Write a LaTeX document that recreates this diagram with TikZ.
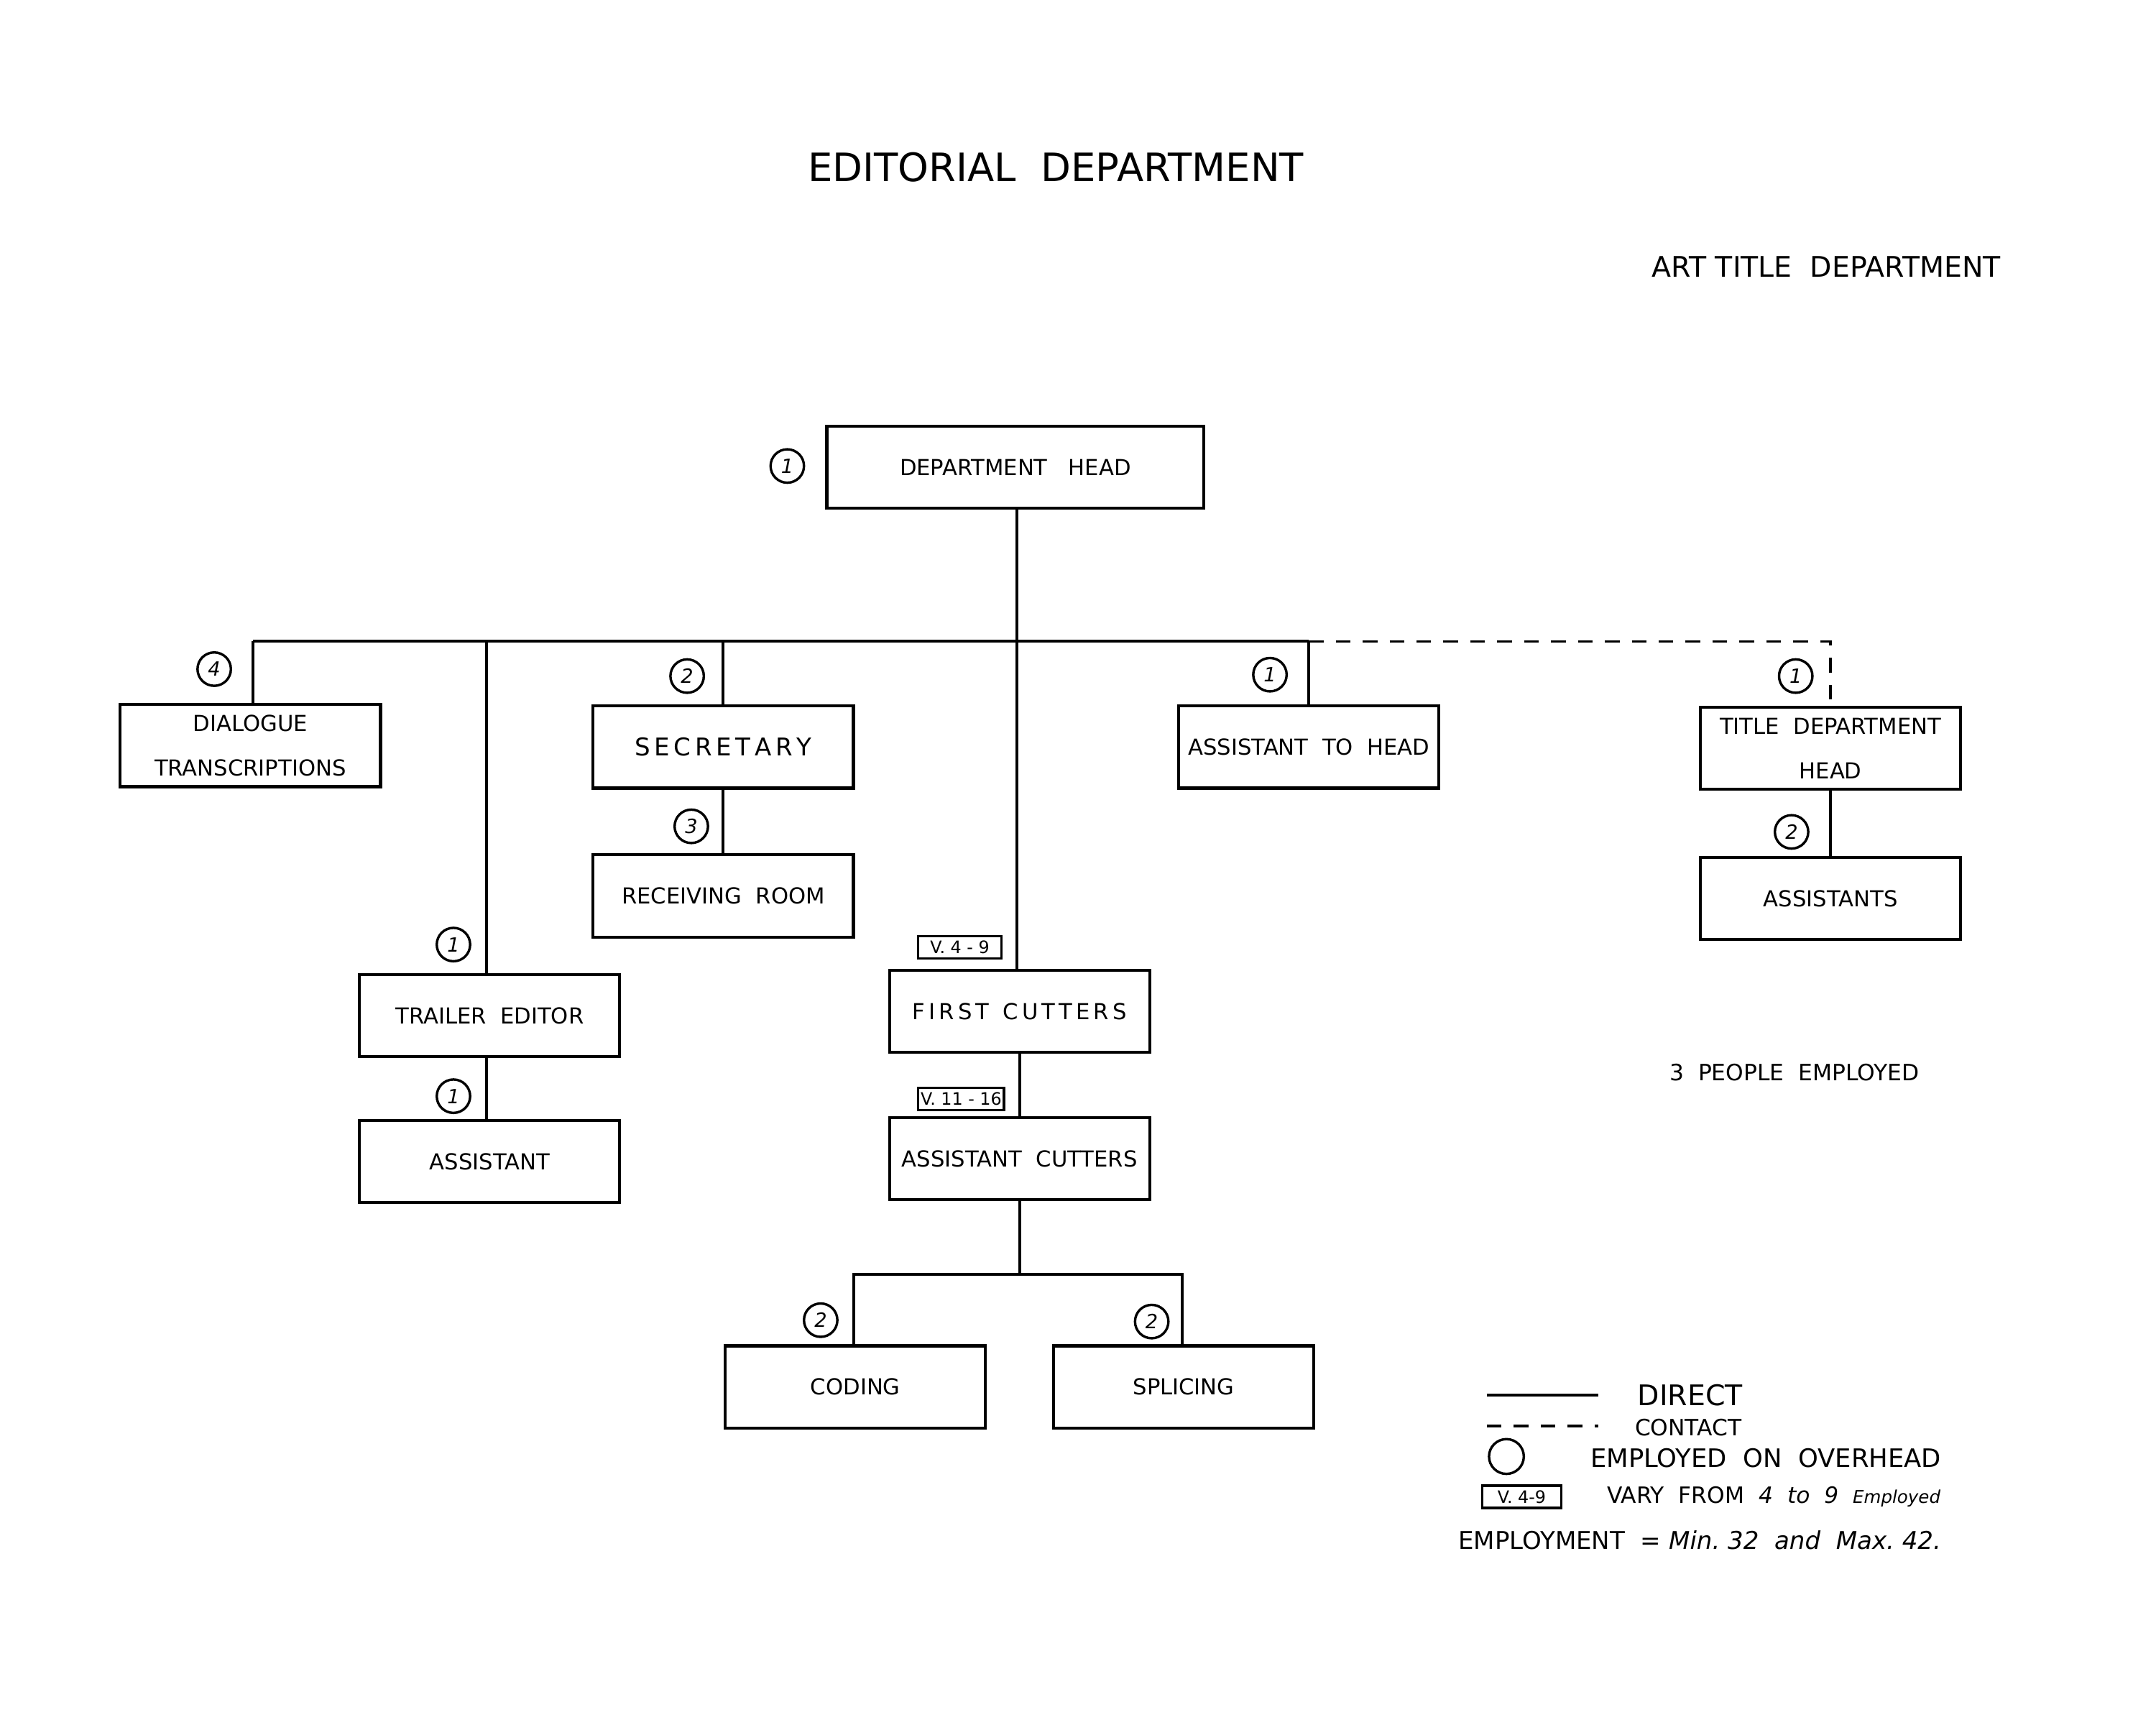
\documentclass[tikz,border=0pt]{standalone}
\usepackage{fontspec}
\setmainfont{DejaVu Sans}
\usetikzlibrary{positioning}
\tikzset{
  unit/.style={draw, line width=0.6pt, minimum width=1.87cm, minimum height=0.59cm, inner sep=1pt, align=center, font=\fontsize{4.5}{6}\selectfont},
  count/.style={draw, circle, line width=0.5pt, minimum size=0.24cm, inner sep=0pt, font=\fontsize{4}{4}\selectfont\itshape},
  tag/.style={draw, line width=0.5pt, minimum width=0.6cm, minimum height=0.16cm, inner sep=0.5pt, font=\fontsize{3.5}{4}\selectfont},
  link/.style={line width=0.6pt},
  contact/.style={line width=0.5pt, dash pattern=on 3pt off 2.5pt},
}
\begin{document}
\begin{tikzpicture}[x=0.01cm, y=-0.01cm]
    \useasboundingbox (0,0) rectangle (1550,1240);
    % Titles
    \node (title) at (759,120) {\fontsize{8}{10}\selectfont EDITORIAL\ \ DEPARTMENT};
    \node (arttitle) at (1313,192) {\fontsize{5.8}{7}\selectfont ART TITLE\ \ DEPARTMENT};

    % Head
    \node (head) [unit, minimum width=2.71cm] at (730,336) {DEPARTMENT\ \ \ HEAD};
    \node (chead) [count] at (566,335) {1};

    % Bus
    \coordinate (busL) at (182,461);
    \coordinate (busR) at (941,461);
    \coordinate (busD) at (1316,461);

    % First level
    \node (dialogue) [unit] at (180,536) {DIALOGUE\\[3pt]TRANSCRIPTIONS};
    \node (cdialogue) [count] at (154,481) {4};
    \node (secretary) [unit] at (520,537) {\fontsize{5}{6}\selectfont S\,E\,C\,R\,E\,T\,A\,R\,Y};
    \node (csecretary) [count] at (494,486) {2};
    \node (receiving) [unit] at (520,644) {RECEIVING\ \ ROOM};
    \node (creceiving) [count] at (497,594) {3};
    \node (asshead) [unit] at (941,537) {ASSISTANT\ \ TO\ \ HEAD};
    \node (casshead) [count] at (913,485) {1};
    \node (titlehead) [unit] at (1316,538) {TITLE\ \ DEPARTMENT\\[3pt]HEAD};
    \node (ctitlehead) [count] at (1291,486) {1};
    \node (assistants) [unit] at (1316,646) {ASSISTANTS};
    \node (cassistants) [count] at (1288,598) {2};

    % Trailer
    \node (trailer) [unit] at (352,730) {TRAILER\ \ EDITOR};
    \node (ctrailer) [count] at (326,679) {1};
    \node (assistant) [unit] at (352,835) {ASSISTANT};
    \node (cassistant) [count] at (326,788) {1};

    % Cutters
    \node (first) [unit] at (733,727) {F\,I\,R\,S\,T\ \ C\,U\,T\,T\,E\,R\,S};
    \node (tfirst) [tag] at (690,681) {V. 4 - 9};
    \node (asscut) [unit] at (733,833) {ASSISTANT\ \ CUTTERS};
    \node (tasscut) [tag] at (691,790) {V. 11 - 16};
    \coordinate (cutbus) at (733,916);
    \node (coding) [unit] at (615,997) {CODING};
    \node (ccoding) [count] at (590,949) {2};
    \node (splicing) [unit] at (851,997) {SPLICING};
    \node (csplicing) [count] at (828,950) {2};

    \node (people) at (1290,771) {\fontsize{4.6}{6}\selectfont 3\ \ PEOPLE\ \ EMPLOYED};

    % Connectors
    \draw[link] (busL) -- (busR);
    \draw[link] (head.south -| 731,0) -- (first.north -| 731,0);
    \draw[link] (busL) -- (dialogue.north -| busL);
    \draw[link] (secretary.north |- busL) -- (secretary);
    \draw[link] (secretary) -- (receiving);
    \draw[link] (busR) -- (asshead);
    \draw[link] (350,461) -- (trailer.north -| 350,0);
    \draw[link] (trailer.south -| 350,0) -- (assistant.north -| 350,0);
    \draw[contact] (busR) -- (busD) -- (titlehead);
    \draw[link] (titlehead) -- (assistants);
    \draw[link] (first) -- (asscut);
    \draw[link] (asscut) -- (cutbus);
    \draw[link] (coding.north -| 614,0) |- (cutbus) -| (splicing.north -| 850,0);

    % Legend
    \coordinate (ld1) at (1069,1003);
    \coordinate (ld2) at (1149,1003);
    \draw[link] (ld1) -- (ld2);
    \node (ldirect) [anchor=west] at (1165,1003) {\fontsize{5.8}{7}\selectfont DIRECT};
    \coordinate (lc1) at (1069,1025);
    \coordinate (lc2) at (1149,1025);
    \draw[contact] (lc1) -- (lc2);
    \node (lcontact) [anchor=west] at (1163,1026) {\fontsize{4.6}{6}\selectfont CONTACT};
    \node (lcircle) [count, minimum size=0.25cm] at (1083,1047) {};
    \node (loverhead) [anchor=west] at (1131,1048) {\fontsize{5.2}{7}\selectfont EMPLOYED\ \ ON\ \ OVERHEAD};
    \node (ltag) [tag, minimum width=0.57cm] at (1094,1076) {V. 4-9};
    \node (lvary) [anchor=west] at (1143,1076) {\fontsize{4.6}{6}\selectfont VARY\ \ FROM\ \ \textit{4\ \ to\ \ 9\ \ {\fontsize{3.6}{5}\selectfont Employed}}};
    \node (lemploy) [anchor=west] at (1036,1107) {\fontsize{5}{6}\selectfont EMPLOYMENT\ \ =\ \textit{Min.\ 32\ \ and\ \ Max.\ 42.}};
\end{tikzpicture}
\end{document}
